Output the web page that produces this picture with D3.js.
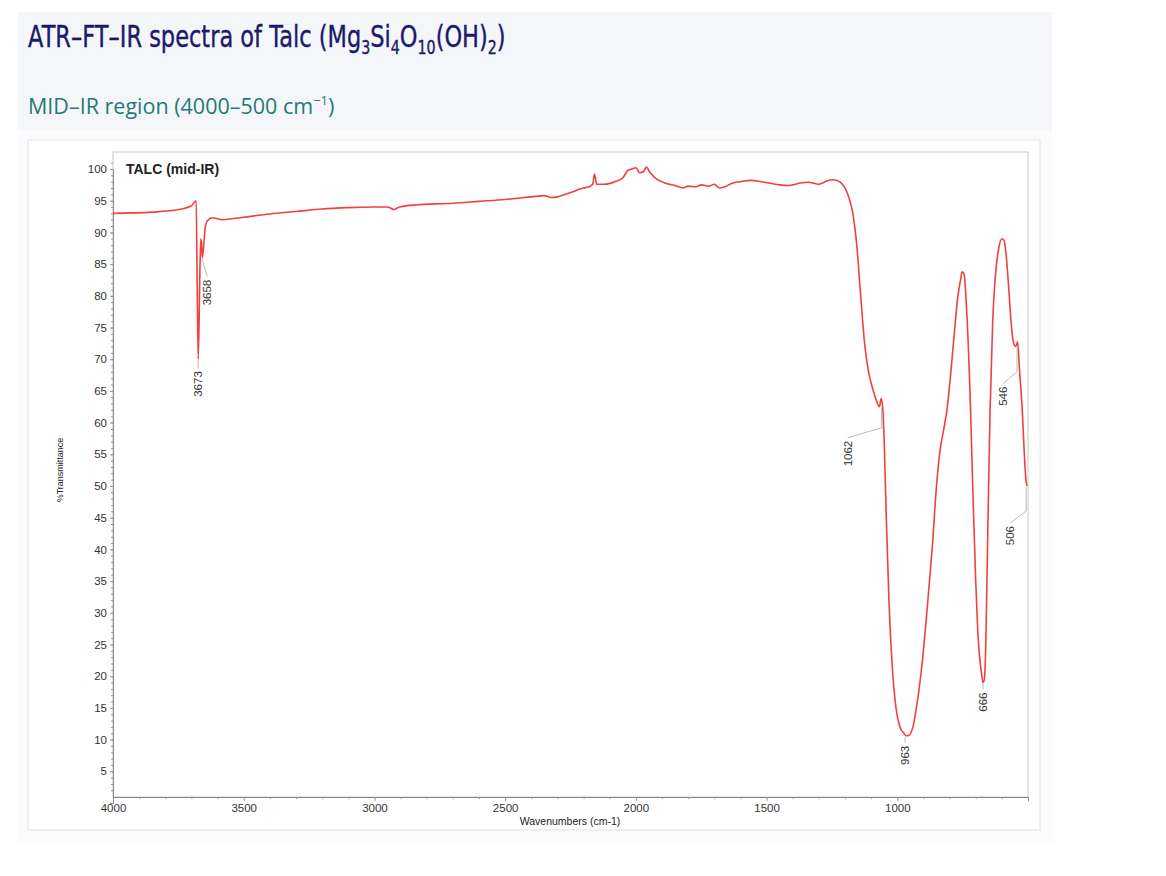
<!DOCTYPE html>
<html><head><meta charset="utf-8">
<script src="https://cdn.jsdelivr.net/npm/d3@7"></script>
<style>body{margin:0;background:#fff;}svg{display:block}</style>
</head><body><svg id="c" width="1166" height="876"></svg>
<script>
const wavenumbers=[4000,3850,3750,3700,3682,3678,3674,3667,3664,3661,3658,3654,3648,3640,3620,3580,3540,3500,3400,3300,3200,3100,3000,2950,2925,2905,2850,2700,2600,2500,2400,2350,2325,2300,2250,2200,2180,2165,2158,2150,2120,2080,2050,2030,2015,2000,1985,1970,1960,1945,1920,1890,1850,1820,1800,1770,1750,1720,1700,1680,1660,1630,1600,1560,1520,1480,1450,1420,1400,1370,1340,1300,1270,1250,1230,1215,1200,1185,1170,1155,1140,1125,1110,1095,1080,1068,1062,1056,1050,1042,1032,1020,1005,990,975,965,955,940,925,905,885,865,850,835,822,810,795,780,768,758,752,745,735,722,710,700,692,685,678,672,667,662,655,645,635,625,612,600,592,585,575,565,555,545,540,532,522,514,508,504];
const transmittance=[93.0,93.2,93.6,94.2,95.0,82,70,85,89,88,86,87.5,90.5,91.8,92.3,92.0,92.2,92.4,92.9,93.3,93.7,93.9,94.0,94.0,93.6,94.0,94.3,94.6,94.9,95.2,95.6,95.8,95.5,95.6,96.3,97.0,97.2,97.6,99.2,97.6,97.6,98.0,98.6,99.8,100.0,100.2,99.4,99.6,100.3,99.4,98.4,97.8,97.4,97.0,97.3,97.2,97.5,97.3,97.6,97.0,97.2,97.8,98.0,98.2,98.0,97.7,97.5,97.4,97.5,97.8,97.9,97.6,98.1,98.3,98.2,97.8,97.0,95.5,93.0,88.0,80.0,72.5,68.0,65.5,63.5,62.5,63.8,62.5,57.0,45.0,32.0,22.0,15.0,12.0,11.0,10.6,10.7,12.0,15.5,22.0,31.0,41.0,50.0,56.0,59.0,62.0,68.0,75.0,80.0,82.5,83.8,83.5,78.0,65.0,48.0,35.0,27.0,23.0,20.5,19.0,19.5,24.0,40.0,62.0,76.0,83.0,87.5,89.0,88.8,87.0,82.0,76.0,72.5,72.0,72.8,68.0,62.0,55.0,51.0,50.0];
const annotations=[
 {label:"3673",w:3674,v:70,dx:0,dy:18,len:8,bend:0},
 {label:"3658",w:3658,v:86,dx:5,dy:16,len:2,bend:1},
 {label:"1062",w:1060,v:62.5,dx:-34,dy:10,len:20,bend:1},
 {label:"963",w:970,v:10.6,dx:0,dy:16,len:6,bend:0},
 {label:"666",w:672,v:19,dx:0,dy:14,len:6,bend:0},
 {label:"546",w:542,v:72.3,dx:-14,dy:12,len:26,bend:1},
 {label:"506",w:507,v:50,dx:-16,dy:12,len:24,bend:1}];
const xTicks=[4000,3500,3000,2500,2000,1500,1000];
const yTicks=[5,10,15,20,25,30,35,40,45,50,55,60,65,70,75,80,85,90,95,100];

const svg=d3.select("#c");
svg.append("rect").attr("x",18).attr("y",12).attr("width",1034).attr("height",118).attr("fill","#f5f6f9");
svg.append("rect").attr("x",18).attr("y",130).attr("width",1034).attr("height",712).attr("fill","#fafbfc");
svg.append("rect").attr("x",28).attr("y",140).attr("width",1012).attr("height",690).attr("fill","#fff").attr("stroke","#e2e2e2");
const t=svg.append("text").attr("transform","translate(28,47) scale(0.75,1)").attr("fill","#1b1a6b").attr("stroke","#1b1a6b").attr("stroke-width",0.4).attr("font-family","'DejaVu Sans',sans-serif").attr("font-size",30);
t.append("tspan").text("ATR–FT–IR spectra of Talc (Mg");
t.append("tspan").text("3").attr("font-size",19).attr("dy",7);
t.append("tspan").text("Si").attr("dy",-7);
t.append("tspan").text("4").attr("font-size",19).attr("dy",7);
t.append("tspan").text("O").attr("dy",-7);
t.append("tspan").text("10").attr("font-size",19).attr("dy",7);
t.append("tspan").text("(OH)").attr("dy",-7);
t.append("tspan").text("2").attr("font-size",19).attr("dy",7);
t.append("tspan").text(")").attr("dy",-7);
const s=svg.append("text").attr("x",28).attr("y",114).attr("fill","#1f7a78").attr("font-family","'Open Sans',sans-serif").attr("font-size",21.5);
s.append("tspan").text("MID–IR region (4000–500 cm");
s.append("tspan").text("−1").attr("font-size",13).attr("dy",-9);
s.append("tspan").text(")").attr("dy",9);

const x=d3.scaleLinear().domain([4000,500]).range([113,1028]);
const y=d3.scaleLinear().domain([0,100]).range([803,169]);
const pTop=152,pBot=797;
svg.append("rect").attr("x",113).attr("y",pTop).attr("width",915).attr("height",pBot-pTop).attr("fill","none").attr("stroke","#c8c8c8");
const f="'Liberation Sans',Arial,sans-serif";
svg.append("g").attr("transform",`translate(0,${pBot})`).call(d3.axisBottom(x).tickValues(xTicks).tickSize(4).tickFormat(d3.format("d")));
svg.append("g").attr("transform",`translate(0,${pBot})`).call(d3.axisBottom(x).tickValues(d3.range(4000,500,-100)).tickSize(2).tickFormat(""));
svg.append("g").attr("transform",`translate(113,0)`).call(d3.axisLeft(y).tickValues(yTicks).tickSize(3));
svg.append("g").attr("transform",`translate(113,0)`).call(d3.axisLeft(y).tickValues(d3.range(2,102,1)).tickSize(2).tickFormat(""));
svg.selectAll(".domain").attr("stroke","#888");
svg.selectAll(".tick line").attr("stroke","#999");
svg.selectAll(".tick text").attr("font-family",f).attr("font-size",11.5).attr("fill","#333");
svg.append("text").attr("x",570).attr("y",825).attr("text-anchor","middle").attr("font-family",f).attr("font-size",10.5).attr("fill","#222").text("Wavenumbers (cm-1)");
svg.append("text").attr("transform","translate(63,470) rotate(-90)").attr("text-anchor","middle").attr("font-family",f).attr("font-size",9).attr("fill","#222").text("%Transmittance");
svg.append("text").attr("x",126).attr("y",174).attr("font-family",f).attr("font-weight","bold").attr("font-size",14).attr("fill","#222").text("TALC (mid-IR)");

const pts=wavenumbers.map((w,i)=>[w,transmittance[i]]);
svg.append("path").datum(pts).attr("fill","none").attr("stroke","#f0413f").attr("stroke-width",1.6)
 .attr("d",d3.line().x(d=>x(d[0])).y(d=>y(d[1])).curve(d3.curveMonotoneX));

annotations.forEach(a=>{
 const px=x(a.w),py=y(a.v)+1;
 const p1=[px,py+a.len],p2=[px+a.dx,py+a.len+(a.bend?a.dy:0)];
 svg.append("polyline").attr("points",[[px,py],p1,p2].map(p=>p.join(",")).join(" ")).attr("fill","none").attr("stroke","#bbb").attr("stroke-width",1);
 svg.append("text").attr("transform",`translate(${p2[0]+4},${p2[1]+3}) rotate(-90)`).attr("text-anchor","end").attr("font-family",f).attr("font-size",11.5).attr("fill","#333").text(a.label);
});
</script></body></html>
